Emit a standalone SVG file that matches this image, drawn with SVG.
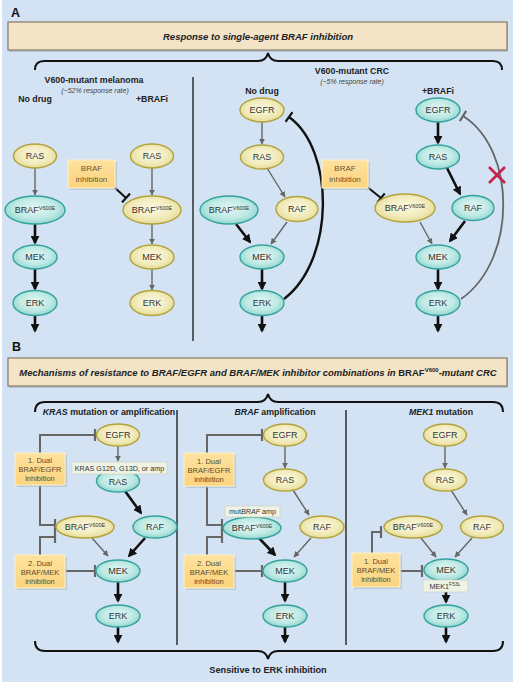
<svg xmlns="http://www.w3.org/2000/svg" width="520" height="682" viewBox="0 0 520 682">
<defs>
<radialGradient id="gT" cx="50%" cy="45%" r="60%"><stop offset="0" stop-color="#fbf9e2"/><stop offset="0.6" stop-color="#f1ebbb"/><stop offset="1" stop-color="#e2d78f"/></radialGradient>
<radialGradient id="gC" cx="50%" cy="45%" r="60%"><stop offset="0" stop-color="#e6f7f4"/><stop offset="0.6" stop-color="#bde9e4"/><stop offset="1" stop-color="#86d0c9"/></radialGradient>
<linearGradient id="gO" x1="0" y1="0" x2="0" y2="1"><stop offset="0" stop-color="#fde29e"/><stop offset="1" stop-color="#fbd47e"/></linearGradient>
<marker id="mg" viewBox="0 0 10 10" refX="9" refY="5" markerWidth="6" markerHeight="6" markerUnits="userSpaceOnUse" orient="auto"><path d="M0,0 L10,5 L0,10 z" fill="#666"/></marker>
<marker id="mb" viewBox="0 0 10 10" refX="8" refY="5" markerWidth="9" markerHeight="9" markerUnits="userSpaceOnUse" orient="auto"><path d="M0,0 L10,5 L0,10 z" fill="#111"/></marker>
<marker id="tb" viewBox="0 0 4 12" refX="2" refY="6" markerWidth="4" markerHeight="12" markerUnits="userSpaceOnUse" orient="auto"><path d="M2,0 V12" stroke="#111" stroke-width="2.2"/></marker>
<marker id="tg" viewBox="0 0 4 12" refX="2" refY="6" markerWidth="4" markerHeight="12" markerUnits="userSpaceOnUse" orient="auto"><path d="M2,0 V12" stroke="#666" stroke-width="2.2"/></marker>
</defs>
<style>
text{font-family:"Liberation Sans",Arial,Helvetica,sans-serif}
.tan{fill:url(#gT);stroke:#b2a33c;stroke-width:1.4}
.teal{fill:url(#gC);stroke:#35a39d;stroke-width:1.4}
.nl{font-size:9px;fill:#333;text-anchor:middle}
.sup{font-size:5.5px}
.ga{stroke:#666;stroke-width:1.4;fill:none;marker-end:url(#mg)}
.ba{stroke:#111;stroke-width:2.6;fill:none;marker-end:url(#mb)}
.gi{stroke:#666;stroke-width:2;fill:none;marker-end:url(#tg)}
.bi{stroke:#111;stroke-width:2;fill:none;marker-end:url(#tb)}
.ob{fill:url(#gO);stroke:#fff1c8;stroke-width:1}
.sh{fill:#a9b9c9;opacity:0.6}
.ot{font-size:7.5px;fill:#5c4a2c;text-anchor:middle}
.ot8{font-size:8px;fill:#6b5530;text-anchor:middle}
.lb{fill:#eef3e6;stroke:#cdd7c6;stroke-width:0.8}
.lt{font-size:7.2px;fill:#333;text-anchor:middle}
.hdr{fill:#f3e4c8;stroke:#857866;stroke-width:1.2}
.ht{font-size:9.5px;font-weight:bold;font-style:italic;fill:#222;text-anchor:middle}
.t{font-size:8.8px;font-weight:bold;fill:#222;text-anchor:middle}
.ti{font-size:7px;font-style:italic;fill:#444;text-anchor:middle}
.br{stroke:#111;stroke-width:2;fill:none}
.dv{stroke:#222;stroke-width:1.4}
</style>
<rect x="0" y="0" width="520" height="682" fill="#ffffff"/>
<rect x="2" y="0" width="511" height="682" fill="#d3e3f3"/>

<!-- Panel A decor -->
<g id="panelA-decor">
<text x="11" y="17" font-size="12.5" font-weight="bold" fill="#111">A</text>
<rect x="9" y="24" width="499" height="28" fill="#9aa8b6" opacity="0.5"/>
<rect class="hdr" x="8" y="22" width="499" height="28"/>
<text class="ht" x="258" y="39.5">Response to single-agent BRAF inhibition</text>
<path class="br" d="M35,70 Q35,61 44,61 H258 Q266,61 268,53 Q270,61 278,61 H493 Q502,61 502,70"/>
<line class="dv" x1="193" y1="77" x2="193" y2="341"/>
<text class="t" x="94" y="83">V600-mutant melanoma</text>
<text class="ti" x="95" y="92.5">(~52% response rate)</text>
<text class="t" x="35" y="102">No drug</text>
<text class="t" x="152" y="102">+BRAFi</text>
<text class="t" x="352" y="74">V600-mutant CRC</text>
<text class="ti" x="352" y="83.5">(~5% response rate)</text>
<text class="t" x="262" y="94">No drug</text>
<text class="t" x="438" y="94">+BRAFi</text>
</g>

<!-- Panel B decor -->
<g id="panelB-decor">
<text x="12" y="351" font-size="12.5" font-weight="bold" fill="#111">B</text>
<rect x="9" y="360" width="499" height="28" fill="#9aa8b6" opacity="0.5"/>
<rect class="hdr" x="8" y="358" width="499" height="28"/>
<text class="ht" x="258" y="375.5">Mechanisms of resistance to BRAF/EGFR and BRAF/MEK inhibitor combinations in <tspan font-style="normal">BRAF</tspan><tspan font-style="normal" font-size="6" dy="-3.5">V600</tspan><tspan dy="3.5">-mutant CRC</tspan></text>
<path class="br" d="M35,412 Q35,402 45,402 H258 Q266,402 268,394 Q270,402 278,402 H493 Q503,402 503,412"/>
<line class="dv" x1="177" y1="410" x2="177" y2="645"/>
<line class="dv" x1="346" y1="410" x2="346" y2="645"/>
<text class="t" x="109" y="415"><tspan font-style="italic">KRAS</tspan> mutation or amplification</text>
<text class="t" x="275" y="415"><tspan font-style="italic">BRAF</tspan> amplification</text>
<text class="t" x="441" y="415"><tspan font-style="italic">MEK1</tspan> mutation</text>
<path class="br" d="M35,641 Q35,651 45,651 H258 Q266,651 268,659 Q270,651 278,651 H493 Q503,651 503,641"/>
<text class="t" x="268" y="673" style="font-size:9.2px">Sensitive to ERK inhibition</text>
</g>

<!-- Connectors -->
<g id="connectors">
<path class="ga" d="M35,168 L35,195"/>
<path class="ba" d="M35,224 L35,243"/>
<path class="ba" d="M35,269 L35,289"/>
<path class="ba" d="M35,315 L35,331"/>
<path class="ga" d="M152,168 L152,195"/>
<path class="ga" d="M152,224 L152,244"/>
<path class="ga" d="M152,269 L152,290"/>
<path class="bi" d="M113,186 L126,198"/>
<path class="ga" d="M262,122 L262,144"/>
<path class="ga" d="M267,168 L285,197"/>
<path class="ba" d="M236,224 L250,242"/>
<path class="ga" d="M287,222 L271,244"/>
<path class="ba" d="M262,269 L262,289"/>
<path class="ba" d="M262,315 L262,331"/>
<path class="bi" d="M284,299 C335,260 335,150 289,117" style="stroke-width:2.4"/>
<path class="ba" d="M438,122 L438,143"/>
<path class="ba" d="M447,168 L460,194"/>
<path class="ga" d="M420,222 L432,244"/>
<path class="ba" d="M465,221 L450,241"/>
<path class="ba" d="M438,269 L438,289"/>
<path class="ba" d="M438,315 L438,331"/>
<path class="bi" d="M366,186 L381,198"/>
<path class="gi" d="M461,299 C517,260 517,150 463,116" style="stroke-width:1.8"/>
<path d="M489,167 L505,183 M505,167 L489,183" stroke="#c4234d" stroke-width="2.6" fill="none"/>
<path class="ga" d="M118,446 L118,461"/>
<path class="ba" d="M125,491 L141,513"/>
<path class="ga" d="M92,538 L108,556"/>
<path class="ba" d="M145,538 L129,556"/>
<path class="ba" d="M118,582 L118,601"/>
<path class="ba" d="M118,627 L118,642"/>
<path class="gi" d="M40,453 V435 H95"/>
<path class="gi" d="M40,485 V525 H55"/>
<path class="gi" d="M40,555 V537 H55"/>
<path class="gi" d="M65,571 H95"/>
<path class="ga" d="M285,446 L285,468"/>
<path class="ga" d="M293,490 L309,515"/>
<path class="ba" d="M259,538 L275,555"/>
<path class="ga" d="M311,538 L294,557"/>
<path class="ba" d="M285,582 L285,601"/>
<path class="ba" d="M285,627 L285,642"/>
<path class="gi" d="M207,453 V435 H262"/>
<path class="gi" d="M207,486 V525 H222"/>
<path class="gi" d="M207,555 V537 H222"/>
<path class="gi" d="M234,571 H262"/>
<path class="ga" d="M445,446 L445,468"/>
<path class="ga" d="M451,490 L467,515"/>
<path class="ga" d="M421,538 L436,557"/>
<path class="ga" d="M472,538 L455,557"/>
<path class="ba" d="M446,592 L446,602"/>
<path class="ba" d="M446,627 L446,642"/>
<path class="gi" d="M372,553 V532 H381"/>
<path class="gi" d="M400,571 H422"/>
</g>

<g id="a-mel-nd-ras"><ellipse class="tan" cx="35" cy="156" rx="21.5" ry="12"/><text class="nl" x="35" y="159.2">RAS</text></g>
<g id="a-mel-nd-braf"><ellipse class="teal" cx="35" cy="210" rx="30" ry="14"/><text class="nl" x="35" y="213.2">BRAF<tspan class="sup" dy="-3">V600E</tspan></text></g>
<g id="a-mel-nd-mek"><ellipse class="teal" cx="35" cy="257" rx="22" ry="12"/><text class="nl" x="35" y="260.2">MEK</text></g>
<g id="a-mel-nd-erk"><ellipse class="teal" cx="35" cy="303" rx="22" ry="12.5"/><text class="nl" x="35" y="306.2">ERK</text></g>
<g id="a-mel-b-inh"><rect class="sh" x="70" y="162" width="47" height="28"/><rect class="ob" x="68" y="160" width="47" height="28"/><text class="ot8" x="91.5" y="171">BRAF</text><text class="ot8" x="91.5" y="181.5">inhibition</text></g>
<g id="a-mel-b-ras"><ellipse class="tan" cx="152" cy="156" rx="21.5" ry="12"/><text class="nl" x="152" y="159.2">RAS</text></g>
<g id="a-mel-b-braf"><ellipse class="tan" cx="152" cy="210" rx="29" ry="14"/><text class="nl" x="152" y="213.2">BRAF<tspan class="sup" dy="-3">V600E</tspan></text></g>
<g id="a-mel-b-mek"><ellipse class="tan" cx="152" cy="257" rx="22" ry="12"/><text class="nl" x="152" y="260.2">MEK</text></g>
<g id="a-mel-b-erk"><ellipse class="tan" cx="152" cy="303" rx="22" ry="12.5"/><text class="nl" x="152" y="306.2">ERK</text></g>
<g id="a-crc-nd-egfr"><ellipse class="tan" cx="262" cy="110" rx="22" ry="12"/><text class="nl" x="262" y="113.2">EGFR</text></g>
<g id="a-crc-nd-ras"><ellipse class="tan" cx="262" cy="157" rx="21.5" ry="12"/><text class="nl" x="262" y="160.2">RAS</text></g>
<g id="a-crc-nd-braf"><ellipse class="teal" cx="229" cy="210" rx="29" ry="14"/><text class="nl" x="229" y="213.2">BRAF<tspan class="sup" dy="-3">V600E</tspan></text></g>
<g id="a-crc-nd-raf"><ellipse class="tan" cx="297" cy="209" rx="21" ry="12.5"/><text class="nl" x="297" y="212.2">RAF</text></g>
<g id="a-crc-nd-mek"><ellipse class="teal" cx="262" cy="257" rx="22" ry="12"/><text class="nl" x="262" y="260.2">MEK</text></g>
<g id="a-crc-nd-erk"><ellipse class="teal" cx="262" cy="303" rx="22" ry="12.5"/><text class="nl" x="262" y="306.2">ERK</text></g>
<g id="a-crc-b-inh"><rect class="sh" x="324" y="162" width="46" height="28"/><rect class="ob" x="322" y="160" width="46" height="28"/><text class="ot8" x="345" y="171">BRAF</text><text class="ot8" x="345" y="181.5">inhibition</text></g>
<g id="a-crc-b-egfr"><ellipse class="teal" cx="438" cy="110" rx="22" ry="12"/><text class="nl" x="438" y="113.2">EGFR</text></g>
<g id="a-crc-b-ras"><ellipse class="teal" cx="438" cy="157" rx="21.5" ry="12"/><text class="nl" x="438" y="160.2">RAS</text></g>
<g id="a-crc-b-braf"><ellipse class="tan" cx="405" cy="208" rx="30" ry="14"/><text class="nl" x="405" y="211.2">BRAF<tspan class="sup" dy="-3">V600E</tspan></text></g>
<g id="a-crc-b-raf"><ellipse class="teal" cx="473" cy="208" rx="21" ry="12.5"/><text class="nl" x="473" y="211.2">RAF</text></g>
<g id="a-crc-b-mek"><ellipse class="teal" cx="438" cy="257" rx="22" ry="12"/><text class="nl" x="438" y="260.2">MEK</text></g>
<g id="a-crc-b-erk"><ellipse class="teal" cx="438" cy="303" rx="22" ry="12.5"/><text class="nl" x="438" y="306.2">ERK</text></g>

<g id="b-kras-egfr"><ellipse class="tan" cx="118" cy="435" rx="21.5" ry="11"/><text class="nl" x="118" y="438.2">EGFR</text></g>
<g id="b-kras-ras"><ellipse class="teal" cx="118" cy="481" rx="21.5" ry="11"/><text class="nl" x="118" y="485">RAS</text></g>
<g id="b-kras-label"><rect class="lb" x="72" y="462" width="95" height="12"/><text class="lt" x="119.5" y="470.8">KRAS G12D, G13D, or amp</text></g>
<g id="b-kras-braf"><ellipse class="tan" cx="85" cy="527" rx="29" ry="11"/><text class="nl" x="85" y="530.2">BRAF<tspan class="sup" dy="-3">V600E</tspan></text></g>
<g id="b-kras-raf"><ellipse class="teal" cx="155" cy="527" rx="22" ry="11"/><text class="nl" x="155" y="530.2">RAF</text></g>
<g id="b-kras-mek"><ellipse class="teal" cx="118" cy="571" rx="22" ry="11"/><text class="nl" x="118" y="574.2">MEK</text></g>
<g id="b-kras-erk"><ellipse class="teal" cx="118" cy="616" rx="22" ry="11"/><text class="nl" x="118" y="619.2">ERK</text></g>
<g id="b-kras-dual1"><rect class="sh" x="17" y="455" width="50" height="32"/><rect class="ob" x="15" y="453" width="50" height="32"/><text class="ot" x="40" y="463">1. Dual</text><text class="ot" x="40" y="472">BRAF/EGFR</text><text class="ot" x="40" y="481">inhibition</text></g>
<g id="b-kras-dual2"><rect class="sh" x="17" y="557" width="50" height="33"/><rect class="ob" x="15" y="555" width="50" height="33"/><text class="ot" x="40" y="565.5">2. Dual</text><text class="ot" x="40" y="574.5">BRAF/MEK</text><text class="ot" x="40" y="583.5">inhibition</text></g>

<g id="b-bamp-egfr"><ellipse class="tan" cx="285" cy="435" rx="21.5" ry="11"/><text class="nl" x="285" y="438.2">EGFR</text></g>
<g id="b-bamp-ras"><ellipse class="tan" cx="285" cy="480" rx="21.5" ry="11"/><text class="nl" x="285" y="483.2">RAS</text></g>
<g id="b-bamp-braf"><ellipse class="teal" cx="252" cy="528" rx="29" ry="11"/><text class="nl" x="252" y="531.2">BRAF<tspan class="sup" dy="-3">V600E</tspan></text></g>
<g id="b-bamp-label"><rect class="lb" x="225" y="506" width="55" height="11"/><text class="lt" x="252.5" y="514.3">mut<tspan font-style="italic">BRAF</tspan> amp</text></g>
<g id="b-bamp-raf"><ellipse class="tan" cx="322" cy="527" rx="22" ry="11"/><text class="nl" x="322" y="530.2">RAF</text></g>
<g id="b-bamp-mek"><ellipse class="teal" cx="285" cy="571" rx="22" ry="11"/><text class="nl" x="285" y="574.2">MEK</text></g>
<g id="b-bamp-erk"><ellipse class="teal" cx="285" cy="616" rx="22" ry="11"/><text class="nl" x="285" y="619.2">ERK</text></g>
<g id="b-bamp-dual1"><rect class="sh" x="186" y="455" width="50" height="33"/><rect class="ob" x="184" y="453" width="50" height="33"/><text class="ot" x="209" y="463.5">1. Dual</text><text class="ot" x="209" y="472.5">BRAF/EGFR</text><text class="ot" x="209" y="481.5">inhibition</text></g>
<g id="b-bamp-dual2"><rect class="sh" x="186" y="557" width="50" height="33"/><rect class="ob" x="184" y="555" width="50" height="33"/><text class="ot" x="209" y="565.5">2. Dual</text><text class="ot" x="209" y="574.5">BRAF/MEK</text><text class="ot" x="209" y="583.5">inhibition</text></g>

<g id="b-mek1-egfr"><ellipse class="tan" cx="445" cy="435" rx="21.5" ry="11"/><text class="nl" x="445" y="438.2">EGFR</text></g>
<g id="b-mek1-ras"><ellipse class="tan" cx="445" cy="480" rx="21.5" ry="11"/><text class="nl" x="445" y="483.2">RAS</text></g>
<g id="b-mek1-braf"><ellipse class="tan" cx="413" cy="527" rx="29" ry="11"/><text class="nl" x="413" y="530.2">BRAF<tspan class="sup" dy="-3">V600E</tspan></text></g>
<g id="b-mek1-raf"><ellipse class="tan" cx="482" cy="527" rx="21.5" ry="11"/><text class="nl" x="482" y="530.2">RAF</text></g>
<g id="b-mek1-mek"><ellipse class="teal" cx="446" cy="570" rx="22" ry="11"/><text class="nl" x="446" y="573.2">MEK</text></g>
<g id="b-mek1-label"><rect class="lb" x="423" y="580" width="45" height="12"/><text class="lt" x="445" y="589">MEK1<tspan font-size="5" dy="-2.8">F53L</tspan></text></g>
<g id="b-mek1-erk"><ellipse class="teal" cx="446" cy="616" rx="22" ry="11"/><text class="nl" x="446" y="619.2">ERK</text></g>
<g id="b-mek1-dual1"><rect class="sh" x="354" y="555" width="48" height="34"/><rect class="ob" x="352" y="553" width="48" height="34"/><text class="ot" x="376" y="564">1. Dual</text><text class="ot" x="376" y="573">BRAF/MEK</text><text class="ot" x="376" y="582">inhibition</text></g>
</svg>
